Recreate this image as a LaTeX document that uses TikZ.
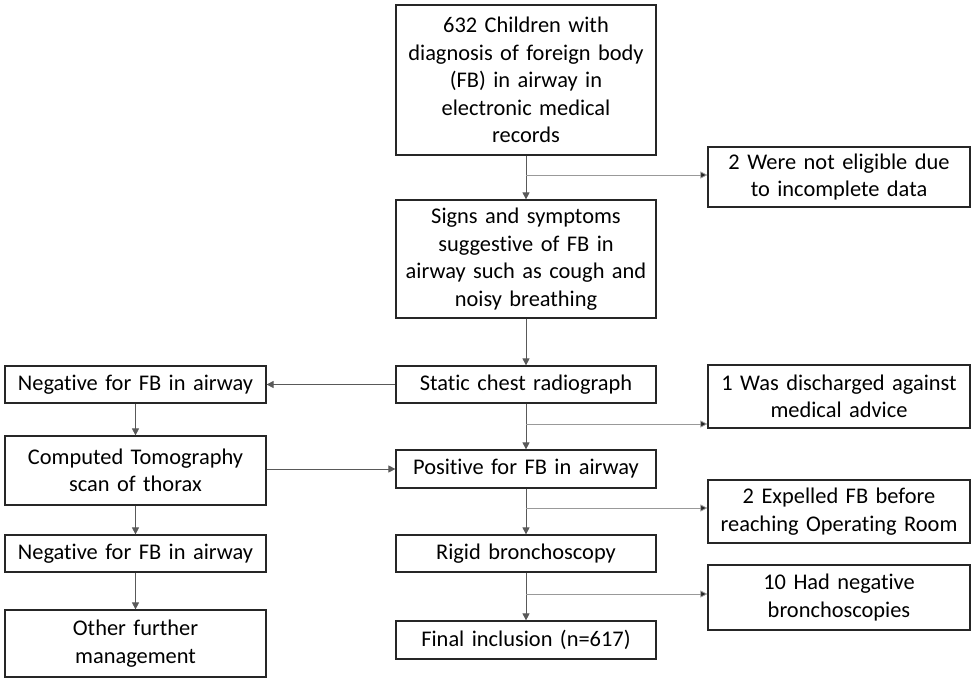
\documentclass[tikz,border=0pt]{standalone}
\usepackage{fontspec}
\setmainfont{Carlito}[Ligatures=NoCommon]
\usetikzlibrary{arrows.meta}
\begin{document}
\begin{tikzpicture}[x=1pt,y=-1pt,
  box/.style={draw=black!85, line width=1.2pt, align=center, inner sep=2pt,
    font=\fontsize{22.4}{27.5}\selectfont, text=black},
  wbox/.style={box, minimum width=260pt, text width=254pt},
  rbox/.style={box, minimum width=262pt, text width=256pt},
  arr/.style={draw=black!65, line width=0.8pt, -{Triangle[length=7pt,width=7pt]}},
  br/.style={draw=black!40, line width=0.8pt, -{Triangle[length=7pt,width=7pt,fill=black!85]}}]
\useasboundingbox (0,0) rectangle (976,682);
\node[wbox, minimum height=150pt] (n1) at (526,80) {632 Children with\\diagnosis of foreign body\\(FB) in airway in\\electronic medical\\records};
\node[rbox, minimum height=60pt] (r1) at (839,177) {2 Were not eligible due\\to incomplete data};
\node[wbox, minimum height=118pt] (n2) at (526,259) {Signs and symptoms\\suggestive of FB in\\airway such as cough and\\noisy breathing};
\node[wbox, minimum height=37pt] (n3) at (526,384.5) {Static chest radiograph};
\node[wbox, minimum width=261pt, minimum height=37pt] (l1) at (135.5,384.5) {Negative for FB in airway};
\node[rbox, minimum height=63pt] (r2) at (839,396.5) {1 Was discharged against\\medical advice};
\node[wbox, minimum height=38pt] (n4) at (526,469) {Positive for FB in airway};
\node[wbox, minimum width=261pt, minimum height=69pt] (l2) at (135.5,470.5) {Computed Tomography\\scan of thorax};
\node[rbox, minimum height=63pt] (r3) at (839,511.5) {2 Expelled FB before\\reaching Operating Room};
\node[wbox, minimum height=37pt] (n5) at (526,553.5) {Rigid bronchoscopy};
\node[rbox, minimum height=65pt] (r4) at (839,597.5) {10 Had negative\\bronchoscopies};
\node[wbox, minimum height=38pt] (n6) at (526,640) {Final inclusion (n=617)};
\node[wbox, minimum width=261pt, minimum height=37pt] (l3) at (135.5,553.5) {Negative for FB in airway};
\node[wbox, minimum width=261pt, minimum height=67pt] (l4) at (135.5,643.5) {Other further\\management};
% main column
\draw[arr] (n1) -- (n2);
\draw[arr] (n2) -- (n3);
\draw[arr] (n3) -- (n4);
\draw[arr] (n4) -- (n5);
\draw[arr] (n5) -- (n6);
% left column
\draw[arr] (n3.west) -- (l1.east);
\draw[arr] (l1) -- (l2);
\draw[arr] (l2.east |- n4.west) -- (n4.west);
\draw[arr] (l2) -- (l3);
\draw[arr] (l3) -- (l4);
% branches
\coordinate (b1) at (526,175);
\coordinate (b2) at (526,424);
\coordinate (b3) at (526,508);
\coordinate (b4) at (526,594);
\draw[br] (b1) -- (b1 -| r1.west);
\draw[br] (b2) -- (b2 -| r2.west);
\draw[br] (b3) -- (b3 -| r3.west);
\draw[br] (b4) -- (b4 -| r4.west);
\end{tikzpicture}
\end{document}
